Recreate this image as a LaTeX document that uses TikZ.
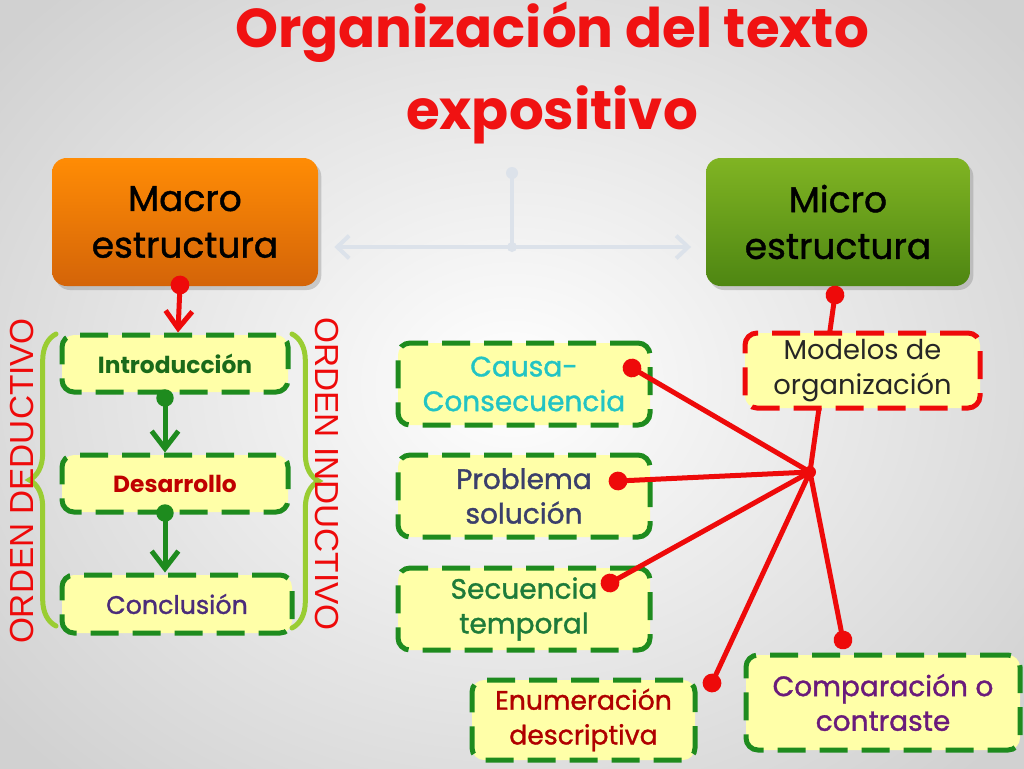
\documentclass[tikz,border=0pt]{standalone}
\usepackage{fontspec}
\setmainfont{Poppins}
\newfontfamily\pmed{Poppins}[FakeBold=1.2]
\newfontfamily\arialf{Liberation Sans}
\usetikzlibrary{arrows.meta,shadows,decorations.pathreplacing,calc}
\definecolor{titlered}{HTML}{F01212}
\definecolor{orA}{HTML}{FF8C05}
\definecolor{orB}{HTML}{D46408}
\definecolor{grA}{HTML}{80B423}
\definecolor{grB}{HTML}{4E8612}
\definecolor{yel}{HTML}{FFFFA8}
\definecolor{dgreen}{HTML}{1E8B1E}
\definecolor{rred}{HTML}{EE0A0A}
\definecolor{brgreen}{HTML}{9ACD32}
\definecolor{conn}{HTML}{DCE2EA}
\definecolor{tIntro}{HTML}{1A6B1A}
\definecolor{tDesa}{HTML}{C00000}
\definecolor{tConc}{HTML}{4B2C7A}
\definecolor{tCausa}{HTML}{22C4C4}
\definecolor{tProb}{HTML}{3B3F6B}
\definecolor{tSecu}{HTML}{1E7B3A}
\definecolor{tEnum}{HTML}{B00000}
\definecolor{tComp}{HTML}{6A1B7B}
\begin{document}
\begin{tikzpicture}[x=0.75pt,y=-0.75pt,
  dbox/.style={draw=dgreen, line width=3.75pt, dash pattern=on 21pt off 10.5pt,
    fill=yel, rounded corners=9pt, align=center, inner sep=0pt},
  rbox/.style={dbox, draw=rred},
  bigbox/.style={rounded corners=11pt, align=center, inner sep=0pt,
    minimum width=199.5pt, minimum height=96pt,
    drop shadow={shadow xshift=2.5pt, shadow yshift=-3pt, opacity=0.35},
    font=\pmed\fontsize{27pt}{35pt}\selectfont},
  btxt/.style={font=\pmed\fontsize{21pt}{26pt}\selectfont},
  stxt/.style={font=\bfseries\fontsize{17.5pt}{20pt}\selectfont},
  ray/.style={draw=rred, line width=3.75pt, -{Circle[length=14pt]}, shorten >=-7pt},
  garrow/.style={draw=dgreen, line width=3.75pt, shorten <=-6.5pt,
    {Circle[length=13pt]}-{Straight Barb[length=13pt,width=20pt,line width=3.75pt]}},
  rarrow/.style={draw=rred, line width=3.75pt, shorten <=-7pt,
    {Circle[length=14pt]}-{Straight Barb[length=13pt,width=20pt,line width=3.75pt]}},
  brace/.style={draw=brgreen, line width=3.75pt, line cap=round, decorate},
  orden/.style={text=rred, font=\arialf\fontsize{25pt}{30pt}\selectfont, inner sep=0pt},
  gconn/.style={draw=conn, line width=3pt}
]
\useasboundingbox (0,0) rectangle (1024,768);
% background
\begin{scope}
\clip (0,0) rectangle (1024,768);
\shade[inner color=white, outer color=black!18] (-150,-150) rectangle (1174,918);
\end{scope}

% title
\node[text=titlered, font=\bfseries\fontsize{41pt}{61pt}\selectfont, align=center, inner sep=0pt]
  (title) at (552,73) {Organización del texto\\expositivo};

% main boxes
\node[bigbox, top color=orA, bottom color=orB] (macro) at (185,222) {Macro\\estructura};
\node[bigbox, top color=grA, bottom color=grB, minimum width=198pt] (micro) at (838,222) {Micro\\estructura};

% gray connector
\coordinate (junc) at (512,247);
\coordinate (jtop) at (512,173);
\draw[gconn] (junc) -- (jtop);
\fill[conn] (jtop) circle[radius=6];
\fill[conn] (junc) circle[radius=5];
\draw[gconn, -{Straight Barb[length=9pt,width=17pt,line width=3pt]}, shorten >=12pt]
  (junc) -- (junc -| macro.east);
\draw[gconn, -{Straight Barb[length=9pt,width=17pt,line width=3pt]}, shorten >=11pt]
  (junc) -- (junc -| micro.west);

% left column
\node[dbox, stxt, text=tIntro, minimum width=169.5pt, minimum height=42.75pt] (intro) at (175,363.5) {Introducción};
\node[dbox, stxt, text=tDesa, minimum width=169.5pt, minimum height=42.75pt] (desa) at (175,483.5) {Desarrollo};
\node[dbox, text=tConc, font=\pmed\fontsize{19pt}{20pt}\selectfont, minimum width=172.5pt, minimum height=43.5pt] (concl) at (177,604) {Conclusión};

\coordinate (mball) at (180,285);
\draw[rarrow] (mball) -- (intro.north -| 178,0);
\coordinate (iball) at (165,398);
\draw[garrow] (iball) -- (desa.north -| 165,0);
\coordinate (dball) at (165,513);
\draw[garrow] (dball) -- (concl.north -| 165,0);

% braces
\coordinate (lbB) at (56,626);
\coordinate (lbT) at (56,334);
\draw[brace, decoration={brace, amplitude=20pt}] (lbB) -- (lbT);
\coordinate (rbT) at (292,334);
\coordinate (rbB) at (292,628);
\draw[brace, decoration={brace, amplitude=20pt}] (rbT) -- (rbB);

\node[orden, rotate=90, anchor=base] (ded) at (33,481) {ORDEN DEDUCTIVO};
\node[orden, rotate=-90, anchor=base] (ind) at (315,474) {ORDEN INDUCTIVO};

% right part
\coordinate (hub) at (810,472);
\coordinate (uball) at (835,295);
\draw[draw=rred, line width=3.75pt, shorten <=-7pt, {Circle[length=14pt]}-] (uball) -- (hub);
\node[rbox, text=black!85, font=\fontsize{20.5pt}{26pt}\selectfont, minimum width=176.25pt, minimum height=56.25pt] (model) at (862.5,370.5) {Modelos de\\organización};

\node[dbox, btxt, text=tCausa, minimum width=189pt, minimum height=61.5pt] (causa) at (524,384) {Causa-\\Consecuencia};
\node[dbox, btxt, text=tProb, minimum width=189pt, minimum height=61.5pt] (prob) at (524,496) {Problema\\solución};
\node[dbox, btxt, text=tSecu, minimum width=189pt, minimum height=61.5pt] (secu) at (524,609) {Secuencia\\temporal};
\node[dbox, text=tEnum, font=\pmed\fontsize{20pt}{26pt}\selectfont, minimum width=167.25pt, minimum height=60pt] (enum) at (583.5,720) {Enumeración\\descriptiva};
\node[dbox, btxt, text=tComp, minimum width=205.5pt, minimum height=71.25pt] (comp) at (883,702.5) {Comparación o\\contraste};

\coordinate (cball) at (632,368);
\coordinate (pball) at (618,481);
\coordinate (sball) at (610,583);
\coordinate (eball) at (712,683);
\coordinate (kball) at (843,640);
\draw[ray] (hub) -- (cball);
\draw[ray] (hub) -- (pball);
\draw[ray] (hub) -- (sball);
\draw[ray] (hub) -- (eball);
\draw[ray] (hub) -- (kball);
\fill[rred] (hub) circle[radius=6];
\end{tikzpicture}
\end{document}
